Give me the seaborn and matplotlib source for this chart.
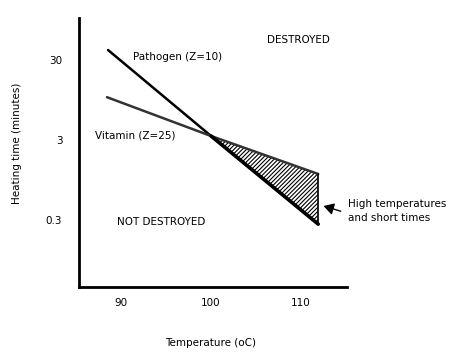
import matplotlib
matplotlib.use('Agg')
import matplotlib.pyplot as plt
import seaborn as sns
import pandas as pd

# values
pathogen_temp = [88.56, 100.0, 111.9]
pathogen_time = [40.0, 3.37, 0.267]
vitamin_temp = [88.44, 100.0, 111.9]
vitamin_time = [10.3, 3.37, 1.13]
x_ticks = [90, 100, 110]
y_ticks = [0.3, 3, 30]
y_tick_labels = ['0.3', '3', '30']

sns.set_style('white', rc={'text.color': 'black', 'axes.labelcolor': 'black',
                           'xtick.color': 'black', 'ytick.color': 'black'})
plt.rcParams['font.family'] = ['DejaVu Sans']
plt.rcParams['hatch.linewidth'] = 0.8

df = pd.concat([
    pd.DataFrame({'temp': pathogen_temp, 'time': pathogen_time, 'kind': 'Pathogen'}),
    pd.DataFrame({'temp': vitamin_temp, 'time': vitamin_time, 'kind': 'Vitamin'}),
])

fig = plt.figure(figsize=(4.7, 3.58), dpi=100)
ax = fig.add_axes([79 / 470, 1 - 287 / 358, 268 / 470, 269 / 358])

sns.lineplot(data=df, x='temp', y='time', hue='kind',
             palette={'Pathogen': 'black', 'Vitamin': '#333333'},
             linewidth=1.8, legend=False, ax=ax)
ax.set_yscale('log')

# shaded zone between the two lines past the crossing
ax.fill_between(pathogen_temp[1:], pathogen_time[1:], vitamin_time[1:],
                facecolor='white', edgecolor='black', hatch='////////', linewidth=0)
ax.plot([pathogen_temp[-1], pathogen_temp[-1]], [pathogen_time[-1], vitamin_time[-1]],
        color='black', lw=1.2)
ax.plot(pathogen_temp[1:], pathogen_time[1:], color='black', lw=2.6)

ax.set_xlim(85.33, 115.1)
ax.set_ylim(0.0437, 100.6)
ax.set_xticks(x_ticks)
ax.set_yticks(y_ticks)
ax.set_yticklabels(y_tick_labels)
ax.minorticks_off()
ax.tick_params(length=0, labelsize=7.5)
ax.tick_params(axis='y', pad=12)
ax.tick_params(axis='x', pad=8)

for side in ['top', 'right']:
    ax.spines[side].set_visible(False)
for side in ['left', 'bottom']:
    ax.spines[side].set_linewidth(2)
    ax.spines[side].set_color('black')

ax.set_xlabel('Temperature (oC)', fontsize=7.5)
ax.set_ylabel('Heating time (minutes)', fontsize=7.5)
ax.xaxis.set_label_coords(0.49, -0.19)
ax.yaxis.set_label_coords(-0.213, 0.535)

fs = 7.5
ax.text(106.2, 53, 'DESTROYED', fontsize=fs, va='center')
ax.text(91.3, 32.7, 'Pathogen (Z=10)', fontsize=fs, va='center')
ax.text(87.1, 3.46, 'Vitamin (Z=25)', fontsize=fs, va='center')
ax.text(89.6, 0.285, 'NOT DESTROYED', fontsize=fs, va='center')
ax.text(115.2, 0.39, 'High temperatures\nand short times', fontsize=fs,
        va='center', clip_on=False, linespacing=1.6)
ax.annotate('', xy=(112.2, 0.46), xytext=(114.7, 0.378),
            arrowprops=dict(arrowstyle='-|>,head_width=0.35,head_length=0.6',
                            color='black', lw=1.0),
            annotation_clip=False)

fig.savefig('out.png', dpi=100)
